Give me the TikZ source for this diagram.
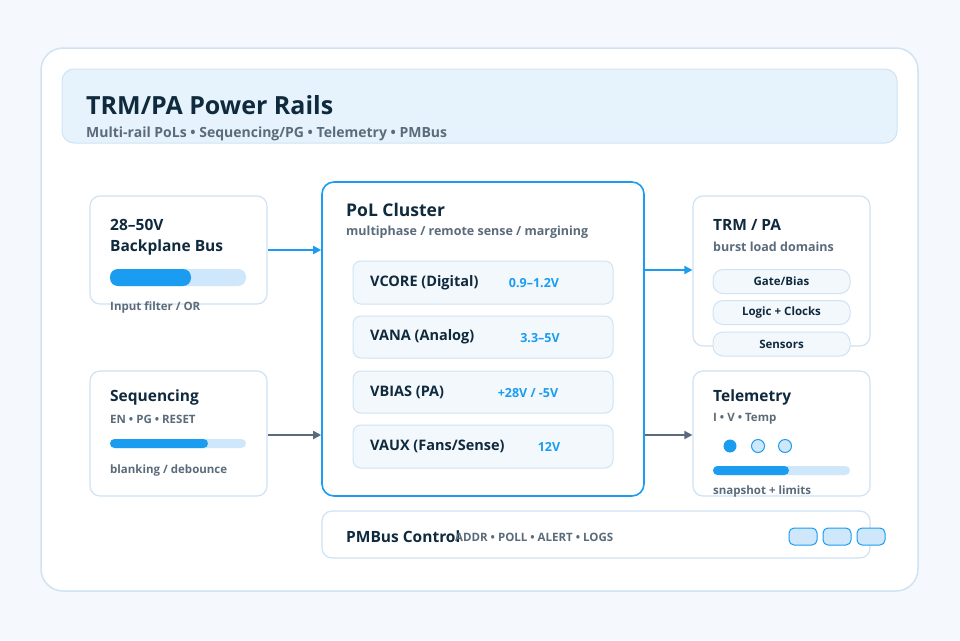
\documentclass[tikz,border=0pt]{standalone}
\usepackage{fontspec}
\setmainfont{Open Sans}
\usetikzlibrary{arrows.meta}
\definecolor{bgc}{HTML}{F5F9FE}
\definecolor{bord}{HTML}{CFE3F5}
\definecolor{hdr}{HTML}{E6F3FD}
\definecolor{dark}{HTML}{0F2A3D}
\definecolor{gry}{HTML}{5A6B7B}
\definecolor{blu}{HTML}{1A9DF0}
\definecolor{lblu}{HTML}{CFE7FB}
\definecolor{rail}{HTML}{F3F8FD}
\tikzset{
 card/.style={draw=bord, fill=white, line width=1.2pt, rounded corners=10pt, inner sep=0pt},
 railbox/.style={draw=bord, fill=rail, line width=1pt, rounded corners=8pt, inner sep=0pt, minimum width=260pt},
 pill/.style={draw=bord, fill=rail, line width=1pt, rounded corners=10pt, inner sep=0pt, minimum width=137pt, minimum height=24pt, font=\bfseries\fontsize{11.5}{14}\selectfont, text=dark},
 txt/.style={anchor=west, inner sep=0pt},
 h1/.style={txt, font=\bfseries\fontsize{15.5}{18}\selectfont, text=dark},
 sub/.style={txt, font=\bfseries\fontsize{11.5}{14}\selectfont, text=gry},
 val/.style={inner sep=0pt, font=\bfseries\fontsize{12.5}{15}\selectfont, text=blu},
 rl/.style={txt, font=\bfseries\fontsize{14.5}{17}\selectfont, text=dark},
 barbg/.style={fill=lblu, rounded corners=4.5pt},
 barfg/.style={fill=blu, rounded corners=4.5pt},
 arr/.style={-{Triangle[length=8pt,width=8pt]}, line width=1.8pt},
}
\begin{document}
\begin{tikzpicture}[x=1pt,y=-1pt]
\fill[bgc] (0,0) rectangle (960,640);
\useasboundingbox (0,0) rectangle (960,640);
\draw[draw=bord, fill=white, line width=1.5pt, rounded corners=22pt] (41,48) rectangle (918,591);
\draw[draw=bord, fill=hdr, line width=1pt, rounded corners=12pt] (62,69) rectangle (897,143);
\node[txt, font=\bfseries\fontsize{25}{30}\selectfont, text=dark] (title) at (86,105) {TRM/PA Power Rails};
\node[txt, font=\bfseries\fontsize{14}{17}\selectfont, text=gry] (subt) at (86,134) {Multi-rail PoLs • Sequencing/PG • Telemetry • PMBus};
% backplane
\node[card, minimum width=177pt, minimum height=108pt] (bus) at (178.5,250) {};
\node[h1] (b1) at (110,225) {28–50V};
\node[h1] (b2) at (110,247) {Backplane Bus};
\fill[barbg, rounded corners=8pt] (110,269) rectangle (246,286);
\fill[barfg, rounded corners=8pt] (110,269) rectangle (191,286);
\node[sub] (b3) at (110,307) {Input filter / OR};
% sequencing
\node[card, minimum width=177pt, minimum height=125pt] (seq) at (178.5,433.5) {};
\node[h1] (s1) at (110,397) {Sequencing};
\node[sub] (s2) at (110,419) {EN • PG • RESET};
\fill[barbg] (110,439) rectangle (246,448);
\fill[barfg] (110,439) rectangle (208,448);
\node[sub] (s3) at (110,471) {blanking / debounce};
% PoL
\node[draw=blu, fill=white, line width=1.6pt, rounded corners=12pt, minimum width=322pt, minimum height=314pt, inner sep=0pt] (pol) at (483,339) {};
\node[txt, font=\bfseries\fontsize{17.5}{20}\selectfont, text=dark] (p1) at (346,210) {PoL Cluster};
\node[sub, font=\bfseries\fontsize{12.5}{15}\selectfont] (p2) at (346,232) {multiphase / remote sense / margining};
\node[railbox, minimum height=43pt] (r1) at (483,282.5) {};
\node[rl] at (370,282.5) {VCORE (Digital)};
\node[val] at (534,283) {0.9–1.2V};
\node[railbox, minimum height=42pt] (r2) at (483,337) {};
\node[rl] at (370,337) {VANA (Analog)};
\node[val] at (540,338) {3.3–5V};
\node[railbox, minimum height=42pt] (r3) at (483,392) {};
\node[rl] at (370,392) {VBIAS (PA)};
\node[val] at (528,393) {+28V / -5V};
\node[railbox, minimum height=43pt] (r4) at (483,446.5) {};
\node[rl] at (370,446.5) {VAUX (Fans/Sense)};
\node[val] at (549,447) {12V};
% TRM
\node[card, minimum width=177pt, minimum height=150pt] (trm) at (781.5,271) {};
\node[h1] (t1) at (713,225) {TRM / PA};
\node[sub, font=\bfseries\fontsize{12.5}{15}\selectfont] (t2) at (713,247) {burst load domains};
\node[pill] (g1) at (781.5,281.5) {Gate/Bias};
\node[pill] (g2) at (781.5,312.5) {Logic + Clocks};
\node[pill] (g3) at (781.5,344) {Sensors};
% telemetry
\node[card, minimum width=177pt, minimum height=125pt] (tel) at (781.5,433.5) {};
\node[h1] (e1) at (713,397) {Telemetry};
\node[sub] (e2) at (713,419) {I • V • Temp};
\fill[blu] (730,446) circle (6.5);
\draw[blu, fill=lblu, line width=1pt] (758,446) circle (6.5);
\draw[blu, fill=lblu, line width=1pt] (785,446) circle (6.5);
\fill[barbg] (713,466) rectangle (850,475);
\fill[barfg] (713,466) rectangle (789,475);
\node[sub] (e3) at (713,492) {snapshot + limits};
% PMBus
\node[card, minimum width=548pt, minimum height=47pt] (pmb) at (596,534.5) {};
\node[h1] (m1) at (346,537) {PMBus Control};
\node[sub] (m2) at (455,537) {ADDR • POLL • ALERT • LOGS};
\foreach \xx in {789,823,857} \draw[blu, fill=lblu, line width=1pt, rounded corners=5pt] (\xx,528) rectangle (\xx+28,545);
% arrows
\draw[arr, blu] (bus.east) -- (bus.east -| pol.west);
\draw[arr, gry] (seq.east) ++(0,1.5) coordinate (sa) -- (sa -| pol.west);
\draw[arr, blu] (pol.east |- 0,270) coordinate (ta) -- (ta -| trm.west);
\draw[arr, gry] (pol.east |- 0,435) coordinate (tb) -- (tb -| tel.west);
\end{tikzpicture}
\end{document}
